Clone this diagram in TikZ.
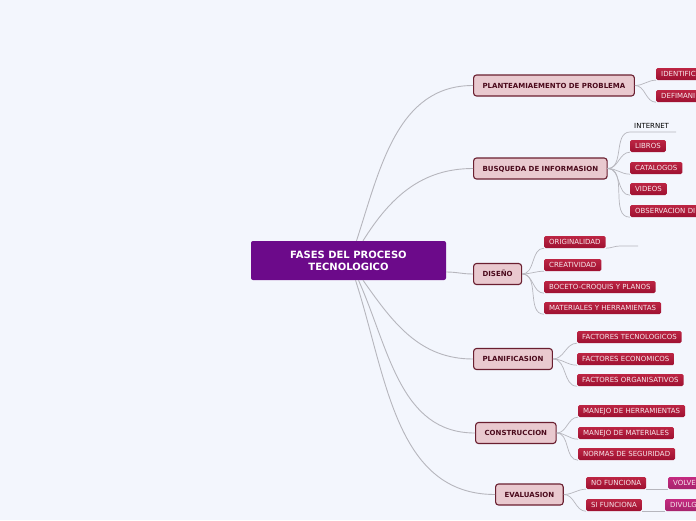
\documentclass[tikz,border=0pt]{standalone}
\usepackage{fontspec}
\setmainfont{DejaVu Sans}
\definecolor{bgblue}{HTML}{F3F6FD}
\definecolor{rootpurple}{HTML}{6C0A8A}
\definecolor{phasefill}{HTML}{E9C9CF}
\definecolor{phasedraw}{HTML}{6A1F30}
\definecolor{phasetext}{HTML}{4B0A1C}
\definecolor{itemtop}{HTML}{BC2543}
\definecolor{itembottom}{HTML}{9E1131}
\definecolor{itemtext}{HTML}{F7E8EC}
\definecolor{lastfill}{HTML}{C42A80}
\definecolor{linkgray}{HTML}{B6B6BD}
\begin{document}
\begin{tikzpicture}[x=1pt, y=-1pt,
    root/.style={fill=rootpurple, rounded corners=2pt, minimum width=195pt, minimum height=39pt,
      align=center, text=white, font=\fontsize{10}{12}\selectfont\bfseries},
    phase/.style={anchor=west, fill=phasefill, draw=phasedraw, line width=1.1pt, rounded corners=3pt,
      inner xsep=9pt, minimum height=21pt, text height=5pt, text depth=0pt,
      text=phasetext, font=\fontsize{7}{8}\selectfont\bfseries},
    item/.style={anchor=west, top color=itemtop, bottom color=itembottom, rounded corners=1.5pt,
      inner xsep=5pt, inner ysep=0pt, minimum height=12pt, text height=5pt, text depth=0pt,
      text=itemtext, font=\fontsize{7}{8}\selectfont},
    cutitem/.style={item, text width=60pt, align=left},
    lastitem/.style={cutitem, top color=lastfill, bottom color=lastfill!85!black},
    plain/.style={anchor=south west, inner xsep=4pt, inner ysep=3pt, text height=5pt, text depth=0pt,
      font=\fontsize{7}{8}\selectfont},
    link/.style={draw=linkgray, line width=0.9pt},
    sublink/.style={draw=linkgray, line width=0.7pt}]
  \useasboundingbox (0,0) rectangle (696,520);
  \clip (0,0) rectangle (696,520);
  \fill[bgblue] (0,0) rectangle (696,520);

  % main topic and phases
  \node[root] (root) at (348.5,260.5) {FASES DEL PROCESO\\TECNOLOGICO};
  \node[phase] (plan) at (473,85.5) {PLANTEAMIAEMENTO DE PROBLEMA};
  \node[phase] (busq) at (473,168.5) {BUSQUEDA DE INFORMASION};
  \node[phase] (dise) at (473,274) {DISEÑO};
  \node[phase] (planif) at (473,359) {PLANIFICASION};
  \node[phase] (cons) at (475,433) {CONSTRUCCION};
  \node[phase] (eval) at (495,494.5) {EVALUASION};

  % items
  \node[cutitem] (ident) at (656,74) {IDENTIFIC};
  \node[cutitem] (defim) at (656,96) {DEFIMANI};
  \node[plain] (internet) at (630,132) {INTERNET};
  \node[item] (libros) at (630,146) {LIBROS};
  \node[item] (catal) at (630,168) {CATALOGOS};
  \node[item] (videos) at (630,189) {VIDEOS};
  \node[item, text width=70pt, align=left] (observ) at (630,211) {OBSERVACION DI};
  \node[item] (orig) at (544,242) {ORIGINALIDAD};
  \coordinate (origend) at (638,246);
  \node[item] (creat) at (544,265) {CREATIVIDAD};
  \node[item] (boceto) at (544,287) {BOCETO-CROQUIS Y PLANOS};
  \node[item] (mater) at (544,308) {MATERIALES Y HERRAMIENTAS};
  \node[item] (ftec) at (577,337) {FACTORES TECNOLOGICOS};
  \node[item] (feco) at (577,359) {FACTORES ECONOMICOS};
  \node[item] (forg) at (577,380) {FACTORES ORGANISATIVOS};
  \node[item] (mherr) at (578,411) {MANEJO DE HERRAMIENTAS};
  \node[item] (mmat) at (578,433) {MANEJO DE MATERIALES};
  \node[item] (normas) at (578,454) {NORMAS DE SEGURIDAD};
  \node[item] (nofun) at (586,483) {NO FUNCIONA};
  \node[item] (sifun) at (586,505) {SI FUNCIONA};
  \node[lastitem] (volve) at (668,483) {VOLVE};
  \node[lastitem] (divulg) at (665,505) {DIVULG};

  % links from the main topic
  \draw[link] ([xshift=8pt]root.north) to[out=72, in=180] (plan.west);
  \draw[link] ([xshift=14.5pt]root.north) to[out=58, in=180] (busq.west);
  \draw[link] ([yshift=-11.5pt]root.east) to[out=0, in=180] (dise.west);
  \draw[link] ([xshift=14.5pt]root.south) to[out=-55, in=180] (planif.west);
  \draw[link] ([xshift=10pt]root.south) to[out=-66, in=180] (cons.west);
  \draw[link] ([xshift=7pt]root.south) to[out=-72, in=180] (eval.west);

  % links to the items
  \draw[sublink] (plan.east) to[out=0, in=180] (ident.south west);
  \draw[sublink] (plan.east) to[out=0, in=180] (defim.south west);
  \draw[sublink] (busq.east) to[out=0, in=180] (internet.south west) -- ([xshift=3pt]internet.south east);
  \draw[sublink] (busq.east) to[out=0, in=180] (libros.south west);
  \draw[sublink] (busq.east) to[out=0, in=180] (catal.south west);
  \draw[sublink] (busq.east) to[out=0, in=180] (videos.south west);
  \draw[sublink] (busq.east) to[out=0, in=180] (observ.south west);
  \draw[sublink] (dise.east) to[out=0, in=180] (orig.south west);
  \draw[sublink] (orig.south east) to[out=0, in=180] ([xshift=-18pt]origend) -- (origend);
  \draw[sublink] (dise.east) to[out=0, in=180] (creat.south west);
  \draw[sublink] (dise.east) to[out=0, in=180] (boceto.south west);
  \draw[sublink] (dise.east) to[out=0, in=180] (mater.south west);
  \draw[sublink] (planif.east) to[out=0, in=180] (ftec.south west);
  \draw[sublink] (planif.east) to[out=0, in=180] (feco.south west);
  \draw[sublink] (planif.east) to[out=0, in=180] (forg.south west);
  \draw[sublink] (cons.east) to[out=0, in=180] (mherr.south west);
  \draw[sublink] (cons.east) to[out=0, in=180] (mmat.south west);
  \draw[sublink] (cons.east) to[out=0, in=180] (normas.south west);
  \draw[sublink] (eval.east) to[out=0, in=180] (nofun.south west);
  \draw[sublink] (eval.east) to[out=0, in=180] (sifun.south west);
  \draw[sublink] (nofun.south east) -- (volve.south west);
  \draw[sublink] (sifun.south east) -- (divulg.south west);
\end{tikzpicture}
\end{document}
